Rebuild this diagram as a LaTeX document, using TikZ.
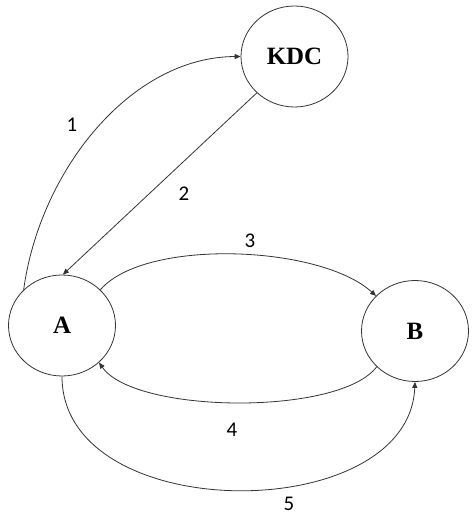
\documentclass[tikz,border=0pt]{standalone}
\usepackage{fontspec}
\setmainfont{Liberation Serif}
\newfontfamily\digitfont{Carlito}
\usetikzlibrary{arrows.meta,shapes.geometric}
\tikzset{
  circ/.style={ellipse, draw=black!80, line width=0.8bp, minimum width=107bp, minimum height=101bp, inner sep=0pt,
    font=\fontsize{25}{30}\selectfont\bfseries},
  conn/.style={draw=black!80, line width=0.8bp, -{Triangle[length=6bp,width=5bp]}},
  lbl/.style={font=\digitfont\fontsize{21}{25}\selectfont, inner sep=0pt}
}
\begin{document}
\begin{tikzpicture}[x=1bp,y=-1bp]
\fill[white] (0,0) rectangle (474,518);
\useasboundingbox (0,0) rectangle (474,518);
\node[circ] (KDC) at (294.5,56.5) {KDC};
\node[circ] (A) at (62,325.5) {A};
\node[circ] (B) at (415,331) {B};
\draw[conn] (A.137.5) .. controls (40,170) and (131,57) .. (KDC.west);
\draw[conn] (KDC.224) -- (A.89);
\draw[conn] (A.43) .. controls (145,238) and (320,245) .. (B.138.5);
\draw[conn] (B.223) .. controls (340,416) and (135,414) .. (A.315);
\draw[conn] (A.270) .. controls (62,527) and (409,527) .. (B.270);
\node[lbl] (l1) at (72,125) {1};
\node[lbl] (l2) at (184,194) {2};
\node[lbl] (l3) at (250,241) {3};
\node[lbl] (l4) at (232,430) {4};
\node[lbl] (l5) at (289,504) {5};
\end{tikzpicture}
\end{document}
